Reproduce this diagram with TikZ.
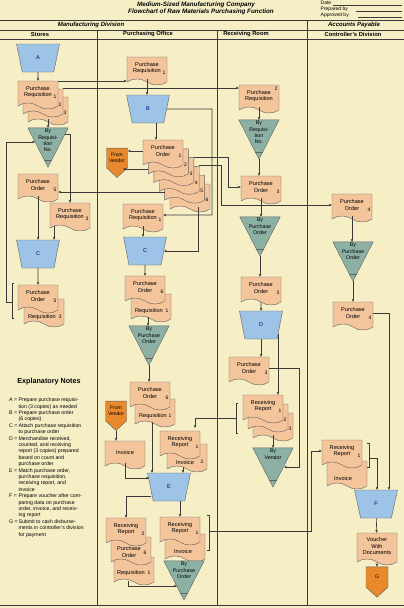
\documentclass[tikz,border=0pt]{standalone}
\usepackage{fontspec}
\setmainfont{Liberation Sans}
\usetikzlibrary{shapes.geometric,shapes.symbols,arrows.meta,calc}

\definecolor{paper}{HTML}{F6EFC6}
\definecolor{docfill}{HTML}{F4C49B}
\definecolor{opfill}{HTML}{9DC3E6}
\definecolor{filefill}{HTML}{8DB0A5}
\definecolor{connfill}{HTML}{E8892E}
\definecolor{ink}{HTML}{3A3A3A}

\tikzset{
	doc/.style={tape, tape bend top=none, tape bend bottom=out and in, tape bend height=6pt,
		draw=ink!80, fill=docfill, line width=0.4pt, minimum width=40pt, minimum height=28pt,
		inner sep=1pt, align=center, font=\fontsize{5.6}{6.1}\selectfont},
	num/.style={font=\fontsize{5}{5}\selectfont, inner sep=0.5pt},
	n/.style={label={[num,anchor=east,xshift=-1pt,yshift=-5pt]east:#1}},
	lab/.style={font=\fontsize{5.6}{6.1}\selectfont, inner sep=0pt},
	op/.style={trapezium, shape border rotate=180, trapezium left angle=80, trapezium right angle=80,
		trapezium stretches=true, minimum width=43pt, minimum height=28pt, draw=ink!80, fill=opfill,
		line width=0.4pt, inner sep=0pt, text=blue!45!black, font=\fontsize{5.5}{6}\selectfont},
	filebox/.style={minimum width=40pt, minimum height=39pt, inner sep=0pt},
	filetri/.style={draw=ink!80, fill=filefill, line width=0.4pt},
	filetext/.style={align=center, inner sep=0pt, font=\fontsize{5.3}{6.4}\selectfont},
	conn/.style={signal, signal to=south, signal from=nowhere, signal pointer angle=95,
		minimum width=21pt, minimum height=27pt, draw=ink!80, fill=connfill, line width=0.4pt,
		inner sep=0pt, align=center, font=\fontsize{5}{5.6}\selectfont},
	arr/.style={draw=ink, line width=0.6pt, -{Stealth[length=3pt,width=2.6pt]}},
	ln/.style={draw=ink, line width=0.6pt},
	rule/.style={draw=ink, line width=0.7pt},
	head/.style={font=\fontsize{5.8}{6}\selectfont\bfseries, inner sep=0pt},
	title/.style={font=\fontsize{6.3}{7}\selectfont\bfseries\itshape, inner sep=0pt}
}

% file symbol: name, x, top y, text
\newcommand\filetri[4]{%
	\node[filebox] (#1) at (#2,#3+19.5) {};
	\filldraw[filetri] (#1.north west) -- (#1.north east) -- (#1.south) -- cycle;
	\draw[filetri] ($(#1.north west)!0.82!(#1.south)$) -- ($(#1.north east)!0.82!(#1.south)$);
	\node[filetext, anchor=north] at ([yshift=-1pt]#1.north) {#4};
}

\begin{document}
\begin{tikzpicture}[x=1pt,y=-1pt]
		%%%%% START %%%%%
		\useasboundingbox (0,0) rectangle (404,608);
		\fill[paper] (0,0) rectangle (404,608);

		% title block
		\node[title] at (196,4.5) {Medium-Sized Manufacturing Company};
		\node[title] at (201,11.5) {Flowchart of Raw Materials Purchasing Function};
		\node[num, anchor=west] at (320,3) {Date};
		\node[num, anchor=west] at (320,9.5) {Prepared by};
		\node[num, anchor=west] at (320,15.5) {Approved by};
		\draw[ink, line width=0.4pt] (333,5) -- (402,5) (356,11) -- (402,11) (358,17) -- (402,17);

		% grid
		\draw[rule] (0,20) -- (404,20);
		\draw[rule] (0,30) -- (404,30);
		\draw[rule] (0,39) -- (404,39);
		\draw[rule] (0,605) -- (404,605);
		\draw[rule] (97,30) -- (97,605);
		\draw[rule] (217,30) -- (217,605);
		\draw[rule] (307,20) -- (307,605);
		\node[head, font=\fontsize{6}{6}\selectfont\bfseries\itshape] at (91,25) {Manufacturing Division};
		\node[head, font=\fontsize{6}{6}\selectfont\bfseries\itshape] at (354,25) {Accounts Payable};
		\node[head] at (40,34.5) {Stores};
		\node[head] at (148,34.5) {Purchasing Office};
		\node[head] at (246,34.5) {Receiving Room};
		\node[head] at (353,34.5) {Controller's Division};

		% stores
		\node[op] (opA) at (38,58) {A};
		\node[doc, n=3] (prA3) at (48,108) {};
		\node[doc, n=2] (prA2) at (43,100) {};
		\node[doc, n=1] (prA1) at (38,92) {Purchase\\Requisition};
		\filetri{fA}{48}{128}{By\\Requisi-\\tion\\No.}
		\node[doc, n=5] (poA) at (38,185) {Purchase\\Order};
		\node[doc, n=3] (prA) at (70,214) {Purchase\\Requisition};
		\node[op] (opC1) at (38,254) {C};
		\node[doc] (rqA) at (44,310) {};
		\node[lab] (rqAt) at (42,317) {Requisition};
		\node[num] at (60,317) {3};
		\node[doc, n=5] (poA2) at (38,296) {Purchase\\Order};
		\draw[ln] (14,283) -- (12,283) -- (12,318) -- (14,318);
		\coordinate (brA) at (12,302);

		% purchasing office
		\node[doc, n=1] (pr1) at (147,68) {Purchase\\Requisition};
		\node[op] (opB) at (148,109) {B};
		\node[doc, n=6] (po-6) at (190,195) {};
		\node[doc, n=5] (po-5) at (184.6,186.2) {};
		\node[doc, n=4] (po-4) at (179.2,177.4) {};
		\node[doc, n=3] (po-3) at (173.8,168.6) {};
		\node[doc, n=2] (po-2) at (168.4,159.8) {};
		\node[doc, n=1] (po-1) at (163,151) {Purchase\\Order};
		\node[conn] (fv1) at (117,158) {From\\Vendor};
		\node[doc, n=1] (pr1b) at (143,215) {Purchase\\Requisition};
		\node[op] (opC2) at (145,251) {C};
		\node[doc] (rq6) at (151,305) {};
		\node[lab] at (149,311) {Requisition};
		\node[num] at (167,311) {1};
		\node[doc, n=6] (po6) at (145,287) {Purchase\\Order};
		\filetri{fP}{149}{326}{By\\Purchase\\Order}
		\node[doc] (rq6b) at (155,410) {};
		\node[lab] at (153,416) {Requisition};
		\node[num] at (170,416) {1};
		\node[doc, n=6] (po6b) at (150,393) {Purchase\\Order};
		\node[conn] (fv2) at (116,411) {From\\Vendor};
		\node[doc] (inv) at (125,452) {Invoice};
		\node[doc] (inv2) at (187,455) {};
		\node[lab] at (185,462) {Invoice};
		\node[num] at (202,462) {2};
		\node[doc, n=1] (rr1) at (180,442) {Receiving\\Report};
		\node[op] (opE) at (169,487) {E};
		\node[doc] (rq1c) at (134,568) {};
		\node[lab] at (131,573) {Requisition};
		\node[num] at (149,573) {1};
		\node[doc] (po6c) at (131,548) {};
		\node[lab, align=center] at (129,552) {Purchase\\Order};
		\node[num] at (145,553) {6};
		\node[doc, n=2] (rr2) at (126,529) {Receiving\\Report};
		\node[doc] (inv3) at (185,545) {};
		\node[lab] at (183,551) {Invoice};
		\node[doc, n=1] (rr1b) at (180,528) {Receiving\\Report};
		\draw[ln] (207,515) -- (209,515) -- (209,550) -- (207,550);
		\coordinate (brP) at (209,531);
		\filetri{fP2}{184}{561}{By\\Purchase\\Order}

		% receiving room
		\node[doc, label={[num,anchor=north east,xshift=-1pt,yshift=-2pt]north east:2}] (pr2) at (259,96) {Purchase\\Requisition};
		\filetri{fR}{259}{120}{By\\Requisi-\\tion\\No.}
		\node[doc, n=3] (po3) at (261,187) {Purchase\\Order};
		\filetri{fR2}{260}{217}{By\\Purchase\\Order}
		\node[doc, n=3] (po3b) at (261,288) {Purchase\\Order};
		\node[op] (opD) at (261,325) {D};
		\node[doc, n=3] (po3c) at (249,368) {Purchase\\Order};
		\node[doc, n=3] (rr-3) at (273,424) {};
		\node[doc, n=2] (rr-2) at (268,415) {};
		\node[doc, n=1] (rr) at (263,406) {Receiving\\Report};
		\draw[ln] (238,403) -- (236,403) -- (236,433) -- (238,433);
		\coordinate (brR) at (236,418);
		\filetri{fV}{273}{448}{By\\Vendor}

		% controller's division
		\node[doc, n=4] (po4) at (352,205) {Purchase\\Order};
		\filetri{fC}{353}{242}{By\\Purchase\\Order}
		\node[doc, n=4] (po4b) at (353,313) {Purchase\\Order};
		\node[doc] (inv4) at (347,472) {};
		\node[lab] at (343,478) {Invoice};
		\node[doc, n=1] (rr4) at (342,451) {Receiving\\Report};
		\draw[ln] (367,443) -- (369,443) -- (369,467) -- (367,467);
		\coordinate (brC) at (369,458);
		\node[op] (opF) at (376,504) {F};
		\node[doc, minimum height=32pt] (vch) at (377,546) {Voucher\\With\\Documents};
		\node[conn, minimum width=22pt, minimum height=22pt] (cG) at (377,577) {G};

		% helper points on borders
		\coordinate (fAr) at (65,134);
		\coordinate (fAl) at (35,142);
		\coordinate (prAb) at (54,226);
		\coordinate (prA1o) at (58,81);
		\coordinate (prA2o) at (63,88);
		\coordinate (bo) at (156,123);
		\coordinate (po2o) at (148.4,169);
		\coordinate (po3o) at (193.8,157);
		\coordinate (po4o) at (199.2,165);
		\coordinate (po5o) at (164.6,192);
		\coordinate (po6o) at (198,207);
		\coordinate (q6o) at (148,317);
		\coordinate (q6b) at (152,422);
		\coordinate (i2o) at (183,467);
		\coordinate (eL) at (149,478);
		\coordinate (eLo) at (151,496);
		\coordinate (rr1t) at (195,428);
		\coordinate (q1o) at (128,581);
		\coordinate (fP2l) at (177,586);
		\coordinate (dR) at (278,334);
		\coordinate (fVr) at (284,467);

		% stores flow
		\draw[arr] (opA) -- (prA1);
		\draw[arr] (prA3.south) -- (fA.north);
		\draw[arr] (fAr) -| (prA.north);
		\draw[arr] (poA.south) -- (poA.south |- opC1.north);
		\draw[arr] (prAb) -- (prAb |- opC1.north);
		\draw[arr] (opC1) -- (poA2);
		\draw[arr] (brA) -- (6,302) |- (fAl);
		\draw[arr] (prA1o) -- (prA1o -| pr1.west);
		\draw[arr] (prA2o) -- (prA2o -| pr2.west);

		% purchasing flow
		\draw[arr] (pr1.south) -- (pr1.south |- opB.north);
		\draw[arr] (bo) -- (bo |- po-1.north);
		\draw[arr] (po-1.west) -- (po-1.west -| fv1.east);
		\draw[arr] (po2o) -- (123,169);
		\draw[arr] (po3o) -- (228,157) |- (po3.west);
		\draw[arr] (po4o) -- (221,165) |- (po4.west);
		\draw[arr] (po5o) -- (po5o -| poA.east);
		\draw[arr] (po6o) |- (opC2.east);
		\draw[arr] (opB.east) -- (212,109) |- (pr1b.east);
		\draw[arr] (pr1b.south) -- (pr1b.south |- opC2.north);
		\draw[arr] (opC2) -- (po6);
		\draw[arr] (q6o) -- (q6o |- fP.north);
		\draw[arr] (fP.south) -- (fP.south |- po6b.north);
		\draw[arr] (fv2.south) -- (fv2.south |- inv.north);
		\draw[arr] (inv.south) |- (eL);
		\draw[arr] (q6b) -- (q6b |- opE.north);
		\draw[arr] (i2o) -- (i2o |- opE.north);
		\draw[arr] (brR) -| (rr1t);
		\draw[arr] (eLo) -| (rr2.north);
		\draw[arr] (opE.south -| rr1b.north) -- (rr1b.north);
		\draw[arr] (q1o) |- (fP2l);
		\draw[arr] (brP) -- (311,531) |- (rr4.west);

		% receiving flow
		\draw[arr] (pr2.south) -- (fR.north);
		\draw[arr] (fR.south) -- (fR.south |- po3.north);
		\draw[arr] (po3.south) -- (po3.south |- fR2.north);
		\draw[arr] (fR2.south) -- (fR2.south |- po3b.north);
		\draw[arr] (po3b) -- (opD);
		\draw[arr] (opD.south) -- (opD.south |- po3c.north);
		\draw[arr] (dR) -- (dR |- rr.north);
		\draw[arr] (po3c.east) -- (299,368) |- (fVr);
		\draw[arr] (rr-3.south) -- (fV.north);

		% controller flow
		\draw[arr] (po4.south) -- (po4.south |- fC.north);
		\draw[arr] (fC.south) -- (fC.south |- po4b.north);
		\draw[arr] (po4b.east) -| ($(opF.north)+(13,0)$);
		\draw[arr] (brC) -| ($(opF.north)+(1,0)$);
		\draw[arr] (opF) -- (vch);
		\draw[arr] (vch) -- (cG);

		% notes
		\node[font=\fontsize{7.2}{8}\selectfont\bfseries, inner sep=0pt] at (49,382) {Explanatory Notes};
		\node[anchor=north west, inner sep=0pt, font=\fontsize{5.2}{6.4}\selectfont] at (9,397) {%
			\begin{tabular}{@{}l@{\,}l@{}}
				A = & Prepare purchase requisi-\\
				    & tion (3 copies) as needed\\
				B = & Prepare purchase order\\
				    & (6 copies)\\
				C = & Attach purchase requisition\\
				    & to purchase order\\
				D = & Merchandise received,\\
				    & counted, and receiving\\
				    & report (3 copies) prepared\\
				    & based on count and\\
				    & purchase order\\
				E = & Match purchase order,\\
				    & purchase requisition,\\
				    & receiving report, and\\
				    & invoice\\
				F = & Prepare voucher after com-\\
				    & paring data on purchase\\
				    & order, invoice, and receiv-\\
				    & ing report\\
				G = & Submit to cash disburse-\\
				    & ments in controller's division\\
				    & for payment
			\end{tabular}};
		%%%%% END %%%%%
\end{tikzpicture}
\end{document}
